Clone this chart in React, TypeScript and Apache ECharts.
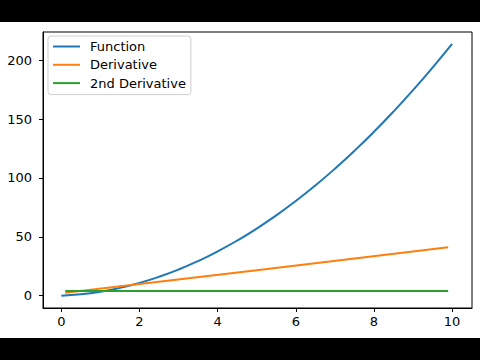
import React, { useEffect, useRef } from "react";
import * as echarts from "echarts";

const fnX = [0, 0.5, 1, 1.5, 2, 2.5, 3, 3.5, 4, 4.5, 5, 5.5, 6, 6.5, 7, 7.5, 8, 8.5, 9, 9.5, 10];
const fnY = [0, 1.2, 3.4, 6.6, 10.8, 16, 22.2, 29.4, 37.6, 46.8, 57, 68.2, 80.4, 93.6, 107.8, 123, 139.2, 156.4, 174.6, 193.8, 214];
const derivX = [0.1, 5, 9.9];
const derivY = [2.4, 21.5, 41.2];
const deriv2X = [0.1, 9.9];
const deriv2Y = [4, 4];
const seriesNames = ["Function", "Derivative", "2nd Derivative"];
const xTicks = [0, 2, 4, 6, 8, 10];
const yTicks = [0, 50, 100, 150, 200];

const pairs = (xs: number[], ys: number[]) => xs.map((x, i) => [x, ys[i]]);

export default function App() {
  const ref = useRef<HTMLDivElement>(null);
  useEffect(() => {
    if (!ref.current) return;
    const chart = echarts.init(ref.current, null, { renderer: "svg" });
    const font = "DejaVu Sans";
    chart.setOption({
      animation: false,
      backgroundColor: "#fff",
      textStyle: { fontFamily: font },
      color: ["#1f77b4", "#ff7f0e", "#2ca02c"],
      grid: {
        left: 43,
        top: 32,
        right: 8,
        bottom: 52,
        show: true,
        borderColor: "#000",
        borderWidth: 1,
        backgroundColor: "#fff",
      },
      legend: {
        orient: "vertical",
        left: 48,
        top: 36,
        icon: "rect",
        itemWidth: 27,
        itemHeight: 2,
        itemGap: 3.3,
        padding: [3, 5, 4, 5],
        borderColor: "#cfcfcf",
        borderWidth: 1,
        borderRadius: 3,
        backgroundColor: "#fff",
        textStyle: { fontFamily: font, fontSize: 13, color: "#000", lineHeight: 15, padding: [0, 0, 0, 5] },
        data: seriesNames,
      },
      xAxis: {
        type: "value",
        min: -0.47,
        max: 10.51,
        splitLine: { show: false },
        axisLine: { show: true, onZero: false, lineStyle: { color: "#000", width: 1 } },
        axisTick: { show: true, inside: false, length: 4, lineStyle: { color: "#000" }, customValues: xTicks },
        axisLabel: { customValues: xTicks, color: "#000", fontSize: 13, fontFamily: font, margin: 7 },
      },
      yAxis: {
        type: "value",
        min: -10.5,
        max: 224,
        splitLine: { show: false },
        axisLine: { show: true, onZero: false, lineStyle: { color: "#000", width: 1 } },
        axisTick: { show: true, inside: false, length: 4, lineStyle: { color: "#000" }, customValues: yTicks },
        axisLabel: { customValues: yTicks, color: "#000", fontSize: 13, fontFamily: font, margin: 11 },
      },
      series: [
        { name: seriesNames[0], type: "line", data: pairs(fnX, fnY), showSymbol: false, smooth: true, lineStyle: { width: 2 } },
        { name: seriesNames[1], type: "line", data: pairs(derivX, derivY), showSymbol: false, lineStyle: { width: 2 } },
        { name: seriesNames[2], type: "line", data: pairs(deriv2X, deriv2Y), showSymbol: false, lineStyle: { width: 2 } },
      ],
      graphic: [
        { type: "rect", left: 0, top: 0, shape: { width: 480, height: 22 }, style: { fill: "#000" }, z: 100 },
        { type: "rect", left: 0, top: 338, shape: { width: 480, height: 22 }, style: { fill: "#000" }, z: 100 },
      ],
    });
    return () => chart.dispose();
  }, []);
  return <div ref={ref} style={{ position: "fixed", left: 0, top: 0, width: 480, height: 360 }} />;
}
